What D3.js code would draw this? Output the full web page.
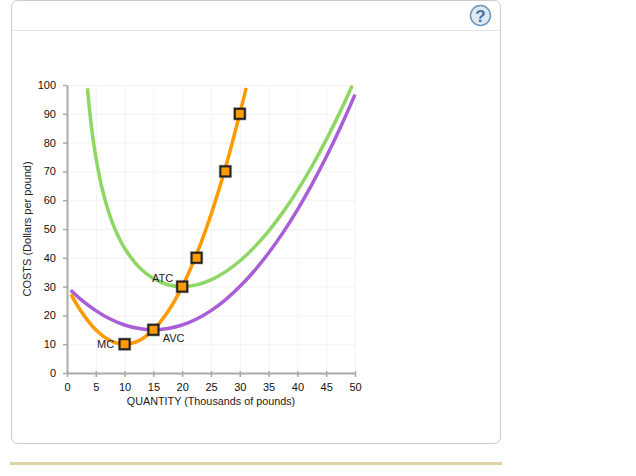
<!DOCTYPE html>
<html><head><meta charset="utf-8">
<script src="https://cdn.jsdelivr.net/npm/d3@7/dist/d3.min.js"></script>
<style>html,body{margin:0;padding:0;background:#fff}svg{display:block;font-family:"Liberation Sans",Arial,sans-serif}</style>
</head><body><svg id="c" width="636" height="476"></svg>
<script>
const xTicks=[0,5,10,15,20,25,30,35,40,45,50];
const yTicks=[0,10,20,30,40,50,60,70,80,90,100];
const atcQ=[3.55,4,4.5,5,6,7,8,9,10,12.5,15,17.5,20,22.5,25,27.5,30,32.5,35,37.5,40,42.5,45,47.5,49.5];
const atcC=[98.87,89.74,81.62,75.01,64.85,57.37,51.61,47.03,43.34,36.76,32.78,30.66,30.01,30.6,32.34,35.12,38.89,43.63,49.29,55.86,63.34,71.7,80.93,91.03,99.74];
const avcQ=[0.64,2.5,5,7.5,10,12.5,15,17.5,20,22.5,25,27.5,30,32.5,35,37.5,40,42.5,45,47.5,50];
const avcC=[28.75,25.42,21.67,18.75,16.67,15.42,15,15.42,16.67,18.75,21.67,25.42,30,35.42,41.67,48.75,56.67,65.42,75,85.42,96.67];
const mcQ=[0.7,2.5,5,7.5,10,12.5,15,17.5,20,22.5,25,27.5,30,31.1];
const mcC=[27.3,21.25,15,11.25,10,11.25,15,21.25,30,41.25,55,71.25,90,99];
const handleQ=[10,15,20,22.5,27.5,30];
const handleC=[10,15,30,40,70,90];
const labels=[["ATC",16.6,33],["AVC",18.5,12],["MC",6.7,10]];

const svg=d3.select("#c");
const x=d3.scaleLinear().domain([0,50]).range([67,355]);
const y=d3.scaleLinear().domain([0,100]).range([373,85]);

svg.append("rect").attr("x",11.5).attr("y",0.5).attr("width",489).attr("height",443).attr("rx",6)
  .attr("fill","#fff").attr("stroke","#ccc");
svg.append("line").attr("x1",12).attr("x2",500).attr("y1",30.5).attr("y2",30.5).attr("stroke","#e4e4e4");
svg.append("rect").attr("x",10).attr("y",462).attr("width",492).attr("height",3).attr("fill","#dfd3a4");

const help=svg.append("g").attr("transform","translate(480.5,15.5)");
help.append("circle").attr("r",10).attr("fill","#dfe9f3").attr("stroke","#6d96ba").attr("stroke-width",1.5);
help.append("text").attr("y",6).attr("text-anchor","middle").attr("font-size",17).attr("font-weight","bold").attr("fill","#3f74a3").text("?");

const g=svg.append("g");
g.append("g").selectAll("line").data(xTicks.slice(1)).join("line")
  .attr("x1",d=>x(d)+.5).attr("x2",d=>x(d)+.5).attr("y1",y(100)).attr("y2",y(0)).attr("stroke","#f3f3f3");
g.append("g").selectAll("line").data(yTicks.slice(1)).join("line")
  .attr("x1",x(0)).attr("x2",x(50)).attr("y1",d=>y(d)+.5).attr("y2",d=>y(d)+.5).attr("stroke","#f3f3f3");

const yAxis=g.append("g").attr("transform",`translate(${x(0)},0)`).call(d3.axisLeft(y).tickValues(yTicks).tickSize(4).tickSizeOuter(0).tickPadding(7));
const xAxis=g.append("g").attr("transform",`translate(0,${y(0)})`).call(d3.axisBottom(x).tickValues(xTicks).tickSize(4).tickSizeOuter(0).tickPadding(6));
[yAxis,xAxis].forEach(a=>{
  a.select(".domain").attr("stroke","#aaa").attr("stroke-width",2);
  a.selectAll(".tick line").attr("stroke","#aaa").attr("stroke-width",1.5);
  a.selectAll("text").attr("font-size",11).attr("fill","#111").attr("font-family",'"Liberation Sans",Arial,sans-serif');
});
xAxis.selectAll(".tick line").attr("y1",-2);

const lineGen=d3.line().x(d=>x(d[0])).y(d=>y(d[1])).curve(d3.curveCatmullRom.alpha(.5));
const curves=[[d3.zip(atcQ,atcC),"#8ed763"],[d3.zip(avcQ,avcC),"#a95ed8"],[d3.zip(mcQ,mcC),"#ff9a00"]];
g.append("g").selectAll("path").data(curves).join("path")
  .attr("d",d=>lineGen(d[0])).attr("fill","none").attr("stroke",d=>d[1]).attr("stroke-width",3.5);

const hs=d3.zip(handleQ,handleC);
g.append("g").selectAll("rect.halo").data(hs).join("rect").attr("class","halo")
  .attr("x",d=>x(d[0])-5).attr("y",d=>y(d[1])-5).attr("width",10).attr("height",10)
  .attr("fill","none").attr("stroke","rgba(0,0,0,.25)").attr("stroke-width",3.4);
g.append("g").selectAll("rect.h").data(hs).join("rect").attr("class","h")
  .attr("x",d=>x(d[0])-5).attr("y",d=>y(d[1])-5).attr("width",10).attr("height",10)
  .attr("fill","#ff9a00").attr("stroke","#222").attr("stroke-width",2);

g.append("g").selectAll("text").data(labels).join("text")
  .attr("x",d=>x(d[1])).attr("y",d=>y(d[2])).attr("dy","0.35em").attr("text-anchor","middle")
  .attr("font-size",11).attr("fill","#222").text(d=>d[0]);

svg.append("text").attr("x",211).attr("y",405).attr("text-anchor","middle").attr("font-size",10.8).attr("fill","#222").text("QUANTITY (Thousands of pounds)");
svg.append("text").attr("transform","translate(31,229) rotate(-90)").attr("text-anchor","middle").attr("font-size",11).attr("fill","#222").text("COSTS (Dollars per pound)");
</script></body></html>
